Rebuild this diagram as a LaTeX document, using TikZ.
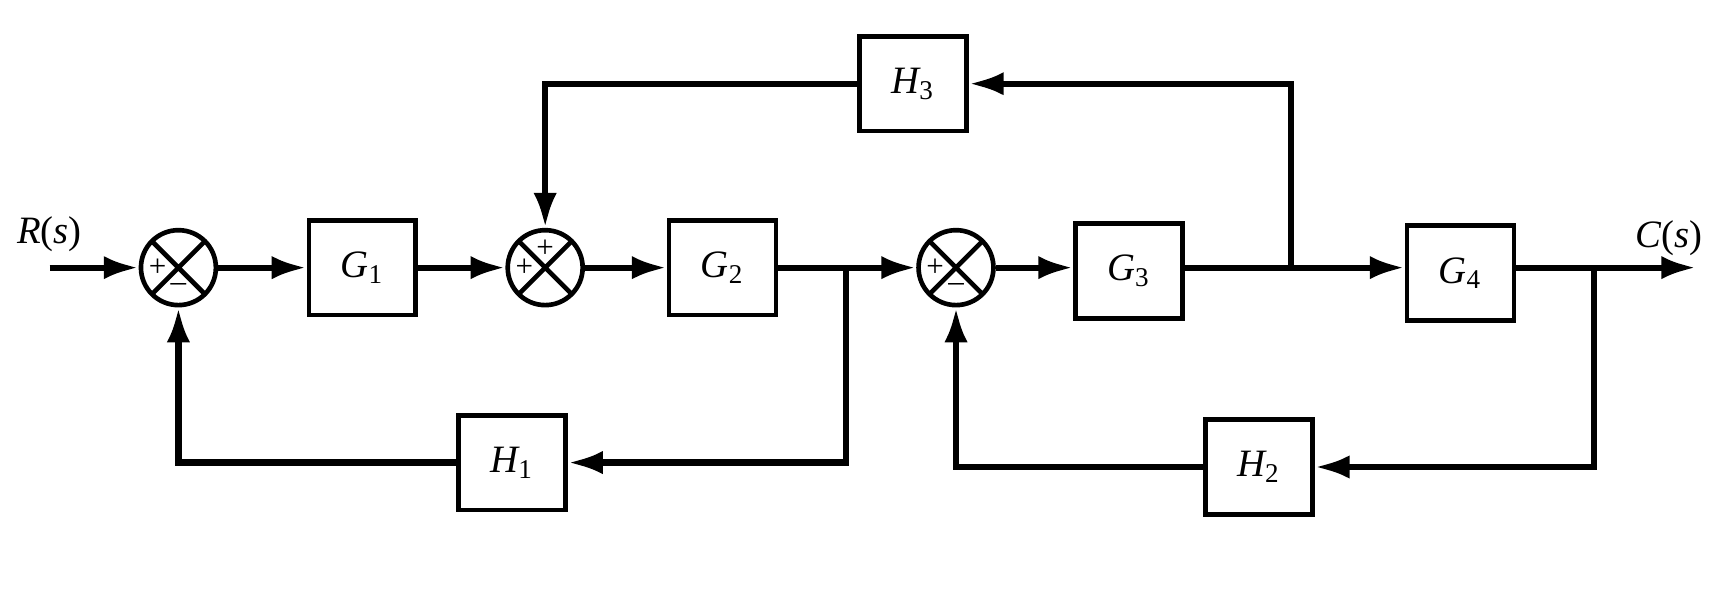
\documentclass[tikz,border=0pt]{standalone}
\usepackage{fontspec}
\setmainfont{Liberation Serif}
\usetikzlibrary{arrows.meta}
\begin{document}
\begin{tikzpicture}[x=0.01cm,y=-0.01cm,line width=1.6pt,
  blk/.style={draw,line width=1.2pt,minimum width=0.97cm,minimum height=0.86cm,inner sep=0pt,font=\fontsize{10}{12}\selectfont\itshape},
  sum/.style={draw,circle,line width=1.2pt,minimum size=0.68cm,inner sep=0pt,
    path picture={\draw[line width=1.2pt] (path picture bounding box.south west)--(path picture bounding box.north east)
      (path picture bounding box.north west)--(path picture bounding box.south east);}},
  sg/.style={font=\fontsize{8}{8}\selectfont,inner sep=0pt},
  arr/.style={-{Latex[length=9pt,width=6pt]}}]
\useasboundingbox (0,0) rectangle (1568,539);
\node[sum] (s1) at (162,243) {};
\node[sum] (s2) at (495,243) {};
\node[sum] (s3) at (868,243) {};
\node[sg] at (143,243) {+}; \node[sg] at (162,261) {\textendash};
\node[sg] at (476,243) {+}; \node[sg] at (495,226) {+};
\node[sg] at (849,243) {+}; \node[sg] at (868,261) {\textendash};
\node[blk] (g1) at (329,243) {G\textsubscript{\upshape 1}};
\node[blk] (g2) at (656,243) {G\textsubscript{\upshape 2}};
\node[blk] (g3) at (1025,246) {G\textsubscript{\upshape 3}};
\node[blk] (g4) at (1326,248) {G\textsubscript{\upshape 4}};
\node[blk] (h1) at (465,420) {H\textsubscript{\upshape 1}};
\node[blk] (h2) at (1143,424) {H\textsubscript{\upshape 2}};
\node[blk] (h3) at (829,76) {H\textsubscript{\upshape 3}};
\coordinate (in) at (45,243);
\coordinate (out) at (1540,243);
\coordinate (b1) at (768,243);
\coordinate (b2) at (1172,243);
\coordinate (b3) at (1447,243);
\node[font=\fontsize{10}{12}\selectfont] at (45,213) {\textit{R}(\textit{s})};
\node[font=\fontsize{10}{12}\selectfont] at (1515,216) {\textit{C}(\textit{s})};
\draw[arr] (in) -- (s1);
\draw[arr] (s1) -- (g1);
\draw[arr] (g1) -- (s2);
\draw[arr] (s2) -- (g2);
\draw[arr] (g2.east |- b1) -- (b1) -- (s3.west);
\draw[arr] (s3) -- (s3 -| g3.west);
\draw[arr] (g3.east |- b2) -- (b2) -- (b2 -| g4.west);
\draw[arr] (g4.east |- b3) -- (b3) -- (out);
\draw[arr] (b1) |- (h1);
\draw[arr] (h1) -| (s1);
\draw[arr] (b2) |- (h3);
\draw[arr] (h3.west) -| (s2.north);
\draw[arr] (b3) |- (h2);
\draw[arr] (h2) -| (s3);
\end{tikzpicture}
\end{document}
